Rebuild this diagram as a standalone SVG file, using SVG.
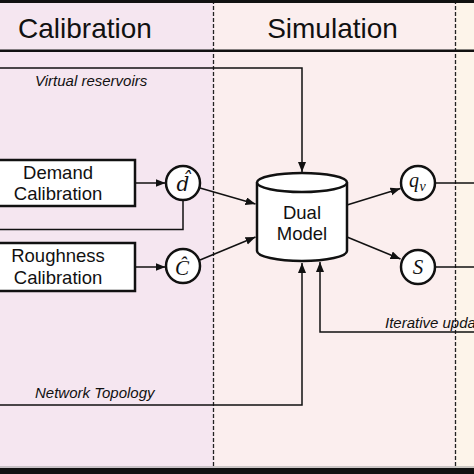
<svg xmlns="http://www.w3.org/2000/svg" width="474" height="474" viewBox="0 0 474 474">
<defs>
<marker id="arr" markerUnits="userSpaceOnUse" markerWidth="11" markerHeight="9" refX="10" refY="4" orient="auto">
<path d="M0,0 L10,4 L0,8 z" fill="#111"/>
</marker>
<style>
.hdr{font-family:"Liberation Sans",Arial,sans-serif;font-size:28px;fill:#111;text-anchor:middle}
.lbl{font-family:"Liberation Sans",Arial,sans-serif;font-size:18.5px;fill:#111;text-anchor:middle}
.it{font-family:"Liberation Sans",Arial,sans-serif;font-size:15px;font-style:italic;fill:#111}
.math{font-family:"Liberation Serif","Times New Roman",serif;font-style:italic;fill:#111}
.box{fill:#fff;stroke:#111;stroke-width:2.5}
.circ{fill:#fff;stroke:#111;stroke-width:2.5}
.edge{fill:none;stroke:#111;stroke-width:1.5}
.dash{stroke:#222;stroke-width:1.3;stroke-dasharray:4 2}
</style>
</defs>
<rect x="0" y="0" width="214" height="474" fill="#f5e6f0"/>
<rect x="214" y="0" width="242" height="474" fill="#fbeeee"/>
<rect x="456" y="0" width="18" height="474" fill="#fdf4ea"/>
<line class="dash" x1="213.5" y1="0" x2="213.5" y2="468"/>
<line class="dash" x1="455.5" y1="0" x2="455.5" y2="468"/>
<rect x="0" y="0" width="474" height="3" fill="#111"/>
<line x1="0" y1="50.8" x2="474" y2="50.8" stroke="#111" stroke-width="2.5"/>
<line x1="0" y1="467" x2="474" y2="467" stroke="#999" stroke-width="1.2"/>
<rect x="0" y="468" width="474" height="6" fill="#111"/>
<text class="hdr" x="85" y="38">Calibration</text>
<text class="hdr" x="332.5" y="38">Simulation</text>
<g id="connectors">
<polyline class="edge" points="0,68 302,68 302,172" marker-end="url(#arr)"/>
<line class="edge" x1="135" y1="183" x2="165.5" y2="183" marker-end="url(#arr)"/>
<polyline class="edge" points="183,200 183,229.5 0,229.5"/>
<line class="edge" x1="135" y1="267" x2="165.5" y2="267" marker-end="url(#arr)"/>
<line class="edge" x1="200" y1="188" x2="255.5" y2="204" marker-end="url(#arr)"/>
<line class="edge" x1="200" y1="260" x2="255.5" y2="237" marker-end="url(#arr)"/>
<line class="edge" x1="347" y1="205" x2="400.5" y2="188.5" marker-end="url(#arr)"/>
<line class="edge" x1="347" y1="237" x2="400.5" y2="259" marker-end="url(#arr)"/>
<line class="edge" x1="435" y1="183" x2="474" y2="183"/>
<line class="edge" x1="435" y1="267" x2="474" y2="267"/>
<polyline class="edge" points="0,405 302,405 302,263" marker-end="url(#arr)"/>
<polyline class="edge" points="474,332 320,332 320,262" marker-end="url(#arr)"/>
<text class="it" x="35" y="86">Virtual reservoirs</text>
<text class="it" x="35" y="398">Network Topology</text>
<text class="it" x="385" y="328">Iterative update</text>
</g>
<g id="demand-calibration">
<rect class="box" x="-17" y="160" width="152" height="46"/>
<text class="lbl" x="58" y="179">Demand</text>
<text class="lbl" x="58" y="200">Calibration</text>
</g>
<g id="roughness-calibration">
<rect class="box" x="-17" y="243" width="152" height="48"/>
<text class="lbl" x="58" y="262">Roughness</text>
<text class="lbl" x="58" y="284">Calibration</text>
</g>
<g id="d-hat">
<circle class="circ" cx="183" cy="183" r="17"/>
<text x="183" y="191" font-size="20" text-anchor="middle" font-family="'DejaVu Serif',serif" font-style="italic" fill="#111">d̂</text>
</g>
<g id="c-hat">
<circle class="circ" cx="183" cy="266" r="17"/>
<text class="math" x="182" y="275" font-size="21" text-anchor="middle">Ĉ</text>
</g>
<g id="dual-model">
<path d="M257,182.5 L257,251 A45,10 0 0 0 347,251 L347,182.5" fill="#fff" stroke="#111" stroke-width="2.5"/>
<ellipse cx="302" cy="182.5" rx="45" ry="9.5" fill="#fff" stroke="#111" stroke-width="2.5"/>
<text class="lbl" x="302" y="219">Dual</text>
<text class="lbl" x="302" y="240">Model</text>
</g>
<g id="qv">
<circle class="circ" cx="418" cy="183" r="17"/>
<text class="math" x="409" y="187" font-size="20">q</text>
<text class="math" x="419.5" y="191" font-size="14">v</text>
</g>
<g id="s">
<circle class="circ" cx="418" cy="267" r="17"/>
<text class="math" x="418" y="274" font-size="21" text-anchor="middle">S</text>
</g>
</svg>
